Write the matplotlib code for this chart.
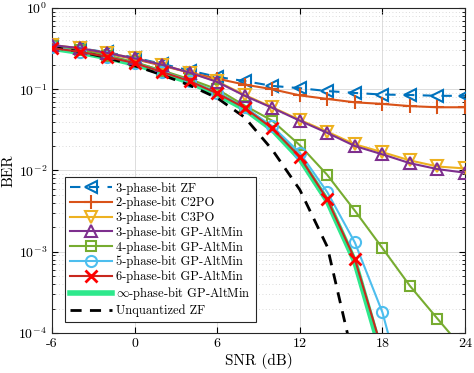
import matplotlib
matplotlib.use("Agg")
import matplotlib.pyplot as plt
import numpy as np

plt.rcParams['font.family'] = ['cmr10', 'DejaVu Serif']
plt.rcParams['mathtext.fontset'] = 'cm'
plt.rcParams['axes.unicode_minus'] = False
plt.rcParams['axes.formatter.use_mathtext'] = True

snr = [-6, -4, -2, 0, 2, 4, 6, 8, 10, 12, 14, 16, 18, 20, 22, 24]

zf3 = [0.35, 0.32, 0.285, 0.245, 0.205, 0.17, 0.142, 0.126, 0.11, 0.103, 0.095, 0.09, 0.086, 0.085, 0.083, 0.083]
c2po = [0.34, 0.31, 0.275, 0.235, 0.195, 0.16, 0.135, 0.114, 0.1, 0.084, 0.076, 0.069, 0.066, 0.062, 0.06, 0.06]
c3po = [0.35, 0.32, 0.28, 0.24, 0.2, 0.16, 0.125, 0.085, 0.06, 0.042, 0.03, 0.021, 0.0168, 0.0133, 0.0112, 0.0106]
gp3 = [0.35, 0.32, 0.28, 0.24, 0.2, 0.16, 0.123, 0.083, 0.059, 0.041, 0.029, 0.020, 0.0158, 0.0123, 0.0104, 0.0094]
gp4 = [0.34, 0.30, 0.26, 0.215, 0.17, 0.133, 0.1, 0.063, 0.041, 0.0205, 0.0088, 0.0032, 0.00111, 0.00038, 0.00015, 0.00006]
snr5 = [-6, -4, -2, 0, 2, 4, 6, 8, 10, 12, 14, 16, 18, 20]
gp5 = [0.33, 0.29, 0.25, 0.21, 0.165, 0.127, 0.09, 0.06, 0.035, 0.0165, 0.0054, 0.0013, 0.00018, 0.00001]
snr6 = [-6, -4, -2, 0, 2, 4, 6, 8, 10, 12, 14, 16, 18]
gp6 = [0.32, 0.29, 0.25, 0.21, 0.163, 0.126, 0.089, 0.059, 0.033, 0.0147, 0.0044, 0.00081, 0.00006]
gpinf = [0.32, 0.285, 0.245, 0.205, 0.16, 0.122, 0.087, 0.057, 0.032, 0.014, 0.0042, 0.00075, 0.00005]
snru = [-6, -4, -2, 0, 2, 4, 6, 8, 10, 12, 14, 16]
unq = [0.33, 0.29, 0.245, 0.195, 0.15, 0.112, 0.078, 0.045, 0.018, 0.0058, 0.00115, 0.00004]

labels = ['3-phase-bit ZF', '2-phase-bit C2PO', '3-phase-bit C3PO',
          '3-phase-bit GP-AltMin', '4-phase-bit GP-AltMin', '5-phase-bit GP-AltMin',
          '6-phase-bit GP-AltMin', r'$\infty$-phase-bit GP-AltMin', 'Unquantized ZF']
xticks = [-6, 0, 6, 12, 18, 24]
xticklabels = ['-6', '0', '6', '12', '18', '24']

fig = plt.figure(figsize=(4.74, 3.73), dpi=100)
ax = fig.add_axes([0.1097, 0.1072, 0.8713, 0.8714])

ms = 8
lw = 1.5
ax.plot(snr, zf3, color='#0072BD', ls=(0, (5, 4)), lw=lw, marker='<', ms=ms, mfc='none', mew=1.5, label=labels[0], zorder=3)
ax.plot(snr, c2po, color='#D95319', lw=lw, marker='+', ms=ms + 2, mew=1.5, label=labels[1], zorder=3)
ax.plot(snr, c3po, color='#EDB120', lw=lw, marker='v', ms=ms, mfc='none', mew=1.5, label=labels[2], zorder=3)
ax.plot(snr, gp3, color='#7E2F8E', lw=lw, marker='^', ms=ms + 1, mfc='none', mew=1.5, label=labels[3], zorder=4)
ax.plot(snr, gp4, color='#77AC30', lw=lw, marker='s', ms=ms - 1, mfc='none', mew=1.5, label=labels[4], zorder=3)
ax.plot(snr5, gp5, color='#4DBEEE', lw=lw, marker='o', ms=ms, mfc='none', mew=1.5, label=labels[5], zorder=3)
ax.plot(snr6, gp6, color='#C8281E', lw=lw, marker='x', ms=ms, mec='#FF0000', mew=2, label=labels[6], zorder=5)
ax.plot(snr6, gpinf, color='#2EE88C', lw=4, label=labels[7], zorder=2)
ax.plot(snru, unq, color='black', ls=(0, (4, 3)), lw=2, label=labels[8], zorder=3)

ax.set_yscale('log')
ax.set_xlim(-6, 24)
ax.set_ylim(1e-4, 1)
ax.set_xticks(xticks)
ax.set_xticklabels(xticklabels)
ax.set_yticks([1e-4, 1e-3, 1e-2, 1e-1, 1])
ax.tick_params(which='both', direction='in', top=True, right=True, labelsize=10)
ax.tick_params(which='major', length=4)
ax.tick_params(which='minor', length=2)
ax.grid(True, which='major', color='#DCDCDC', lw=0.7)
ax.grid(True, which='minor', axis='y', color='#D0D0D0', lw=0.6, ls=(0, (1, 3)))
ax.set_axisbelow(True)
for s in ax.spines.values():
    s.set_color('#262626')
    s.set_linewidth(0.8)

ax.set_xlabel('SNR (dB)', fontsize=11, labelpad=2)
ax.set_ylabel('BER', fontsize=11, labelpad=2)

leg = ax.legend(loc='upper left', bbox_to_anchor=(0.031, 0.48), fontsize=9,
                handlelength=3.4, labelspacing=0.17, borderpad=0.4,
                handletextpad=0.3, fancybox=False, framealpha=1,
                edgecolor='#262626', borderaxespad=0)
leg.get_frame().set_linewidth(0.8)

fig.savefig('out.png', dpi=100)
